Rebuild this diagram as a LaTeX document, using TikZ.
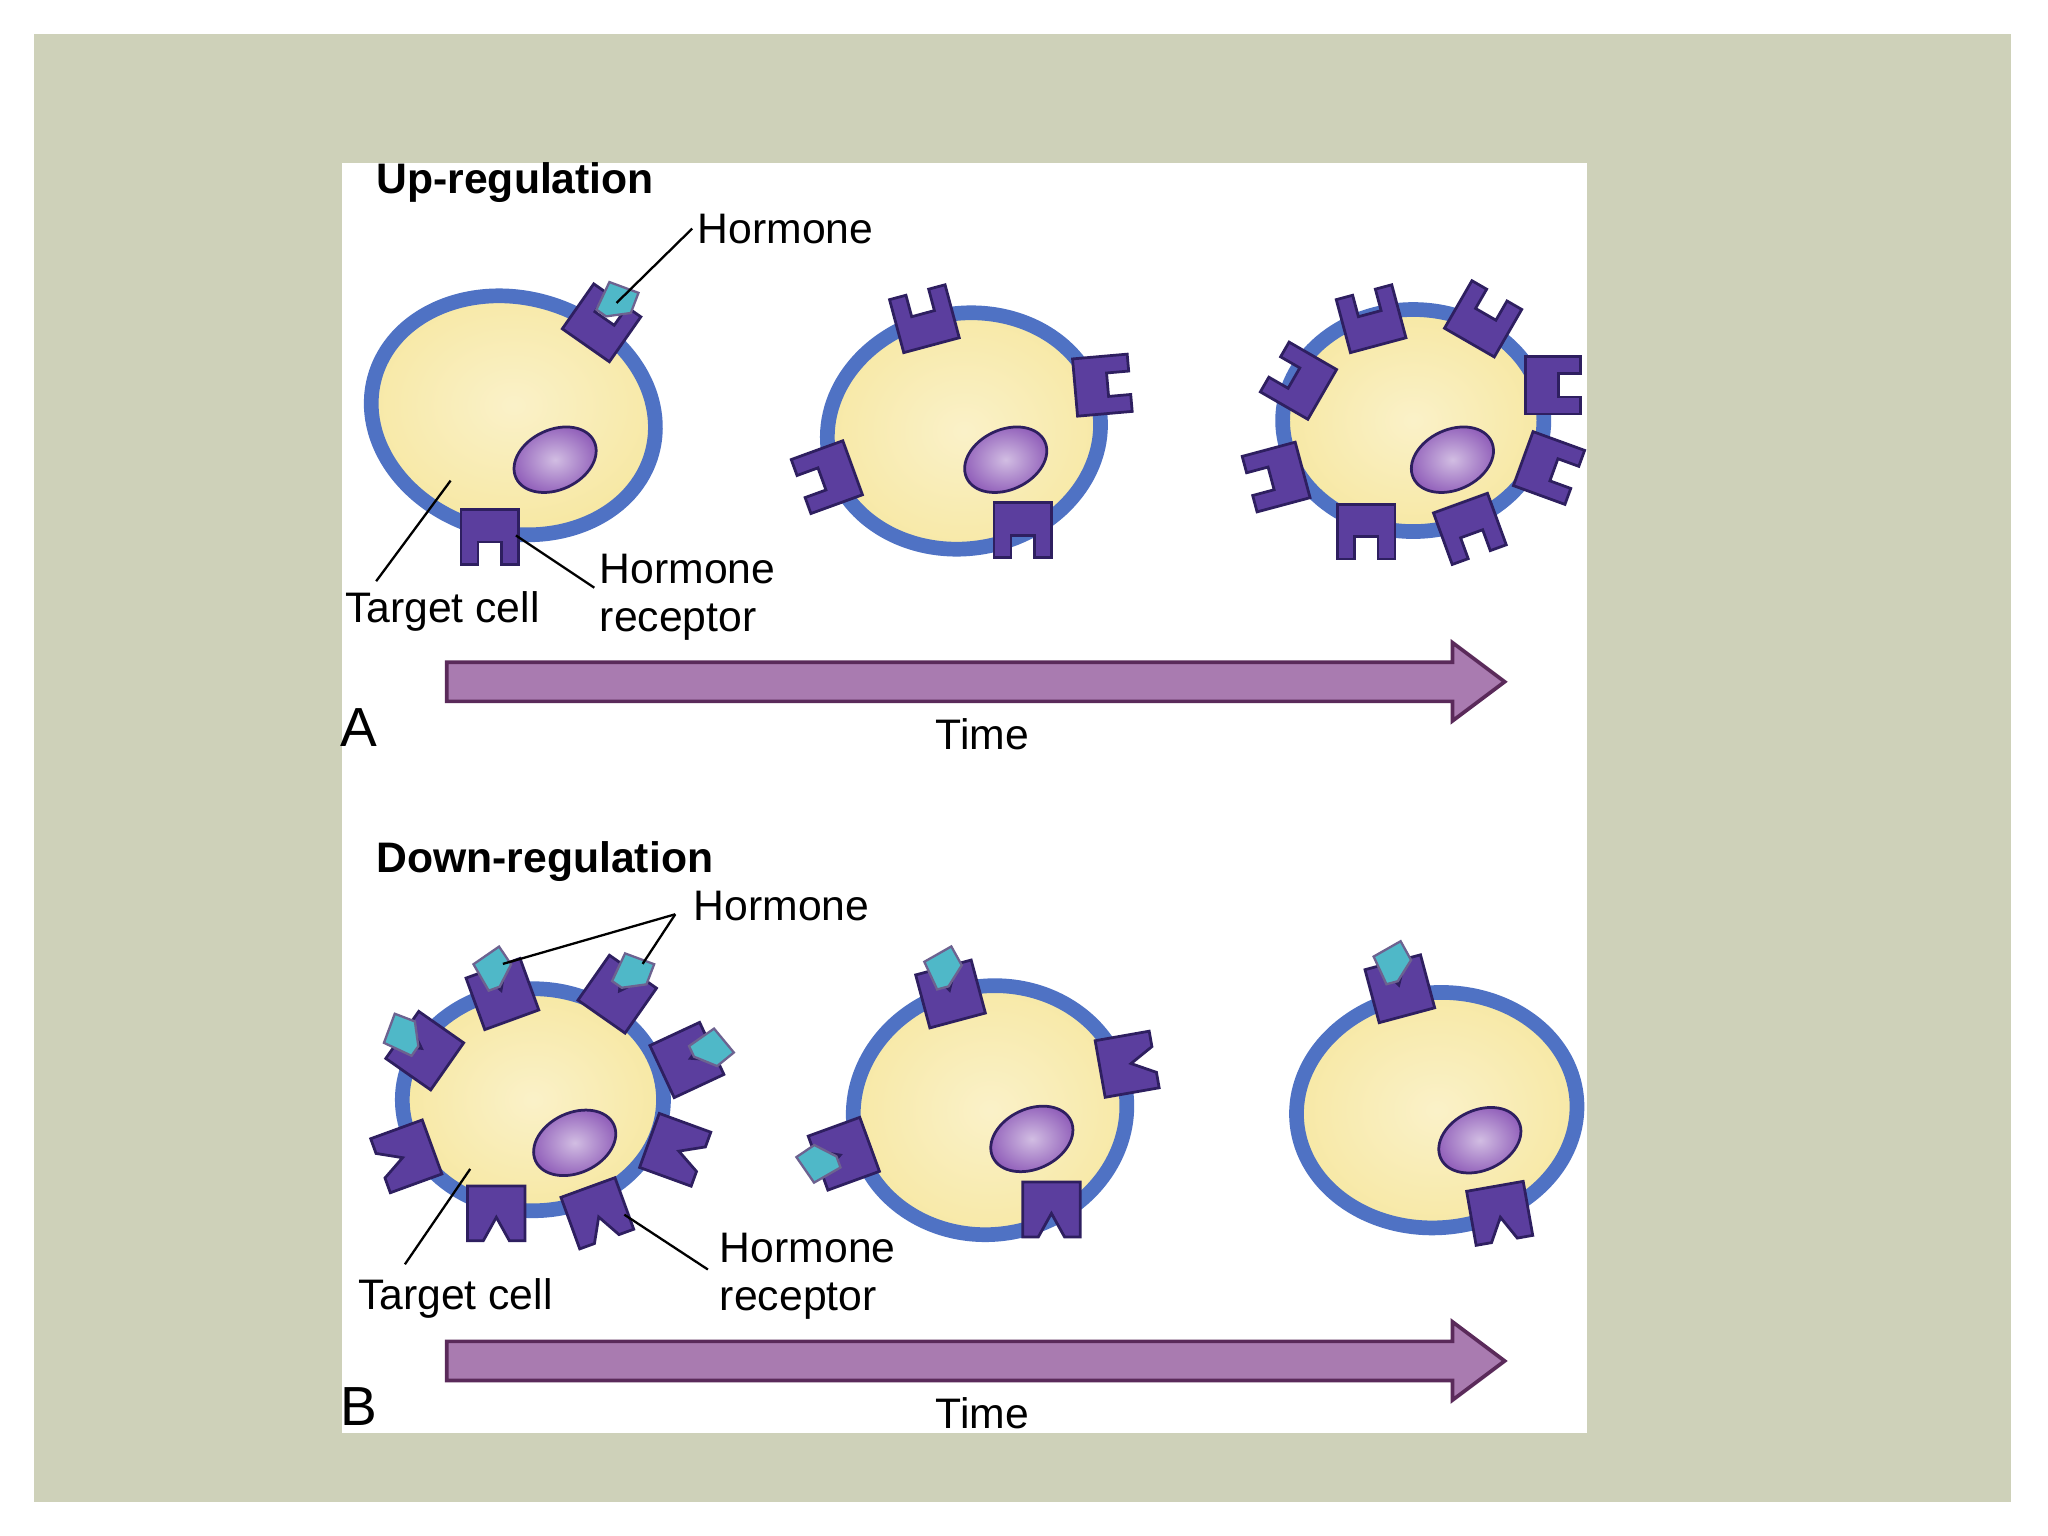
\documentclass[tikz,border=0pt]{standalone}
\usepackage{fontspec}
\setmainfont{Liberation Sans}
\usetikzlibrary{shapes.geometric}
\definecolor{bgc}{HTML}{CED1B9}
\definecolor{memb}{HTML}{4F72C4}
\definecolor{cyt}{HTML}{F7E8A4}
\definecolor{nuc}{HTML}{8E5BB8}
\definecolor{rec}{HTML}{5B3E9E}
\definecolor{recd}{HTML}{2E1F60}
\definecolor{horm}{HTML}{4FB8C8}
\definecolor{arr}{HTML}{A97BB0}
\definecolor{arrd}{HTML}{5A2A5A}
\tikzset{
 cell/.style={draw=memb,line width=3.2pt,inner color=cyt!60!white,outer color=cyt,ellipse},
 nucl/.style={draw=recd,line width=0.6pt,inner color=nuc!40!white,outer color=nuc},
 lbl/.style={font=\fontsize{9.3}{10.5}\selectfont,inner sep=1pt},
 ttl/.style={font=\fontsize{9.3}{10.5}\selectfont\bfseries,inner sep=1pt},
 lead/.style={draw=black,line width=0.5pt},
 pics/recU/.style={code={\path[yshift=-0.2cm,fill=rec,draw=recd,line width=0.6pt] (-0.22,0) -- (-0.22,0.42) -- (-0.09,0.42) -- (-0.09,0.25) -- (0.09,0.25) -- (0.09,0.42) -- (0.22,0.42) -- (0.22,0) -- cycle;}},
 pics/recV/.style={code={\path[yshift=-0.2cm,fill=rec,draw=recd,line width=0.6pt] (-0.22,0) -- (-0.22,0.42) -- (-0.1,0.42) -- (0,0.24) -- (0.1,0.42) -- (0.22,0.42) -- (0.22,0) -- cycle;}},
 pics/hor/.style={code={\path[yshift=-0.2cm,fill=horm,draw=recd!70,line width=0.5pt] (-0.09,0.27) -- (-0.13,0.5) -- (0.1,0.56) -- (0.14,0.4) -- (0,0.27) -- cycle;}},
}
\newcommand{\Ru}[3]{\pic[rotate=#3] at (#1/100,11.76-#2/100) {recU};}
\newcommand{\Rv}[3]{\pic[rotate=#3] at (#1/100,11.76-#2/100) {recV};}
\newcommand{\Rh}[3]{\pic[rotate=#3] at (#1/100,11.76-#2/100) {recV};\pic[rotate=#3] at (#1/100,11.76-#2/100) {hor};}
\newcommand{\Cell}[6]{\node[cell,minimum width=#3cm,minimum height=#4cm,rotate=#5] (#6) at (#1/100,11.76-#2/100) {};}
\newcommand{\Nuc}[2]{\path[nucl,rotate around={25:(#1/100,11.76-#2/100)}] (#1/100,11.76-#2/100) ellipse (0.33 and 0.23);}
\newcommand{\BigArrow}[1]{\path[fill=arr,draw=arrd,line width=0.8pt] (3.42,#1+0.15) -- (11.12,#1+0.15) -- (11.12,#1+0.3) -- (11.52,#1) -- (11.12,#1-0.3) -- (11.12,#1-0.15) -- (3.42,#1-0.15) -- cycle;}
\begin{document}
\begin{tikzpicture}
\useasboundingbox (0,0) rectangle (15.68,11.76);
\fill[white] (0,0) rectangle (15.68,11.76);
\fill[bgc] (0.26,0.26) rectangle (15.4,11.5);
\fill[white] (2.62,0.79) rectangle (12.15,10.51);
% ---------- A ----------
\Cell{393}{318}{2.2}{1.8}{-15}{a1}
\Nuc{425}{352}
\Cell{738}{330}{2.1}{1.8}{10}{a2}
\Nuc{770}{352}
\Cell{1082}{322}{2.0}{1.7}{0}{a3}
\Nuc{1112}{352}
\Ru{460}{248}{-35}\pic[rotate=-35] at (4.6,11.76-2.48) {hor};
\Ru{375}{410}{180}
\Ru{708}{245}{15}\Ru{843}{295}{-85}\Ru{634}{365}{110}\Ru{783}{405}{180}
\Ru{1050}{245}{15}\Ru{1135}{245}{-30}\Ru{995}{292}{60}\Ru{1188}{295}{-90}
\Ru{978}{365}{105}\Ru{1185}{358}{-110}\Ru{1046}{406}{180}\Ru{1125}{404}{-160}
\node[ttl,anchor=west] (ta) at (2.84,11.76-1.4) {Up-regulation};
\node[lbl,anchor=west] (ha) at (5.3,11.76-1.75) {Hormone};
\draw[lead] (ha.west) -- (4.72,11.76-2.32);
\node[lbl,anchor=west] (tca) at (2.6,11.76-4.68) {Target cell};
\draw[lead] (2.88,11.76-4.45) -- (3.45,11.76-3.68);
\node[lbl,anchor=west,align=left] (hra) at (4.55,11.76-4.57) {Hormone\\receptor};
\draw[lead] (4.55,11.76-4.5) -- (3.95,11.76-4.1);
\BigArrow{6.54}
\node[lbl,font=\fontsize{12}{13}\selectfont] (la) at (2.75,11.76-5.57) {A};
\node[lbl] (tia) at (7.52,11.76-5.62) {Time};
% ---------- B ----------
\Cell{408}{842}{2.0}{1.7}{0}{b1}
\Nuc{440}{875}
\Cell{758}{850}{2.1}{1.9}{10}{b2}
\Nuc{790}{872}
\Cell{1100}{850}{2.15}{1.8}{5}{b3}
\Nuc{1133}{873}
\Rh{385}{762}{20}\Rh{472}{762}{-35}\Rh{326}{805}{55}\Rh{525}{812}{-65}
\Rv{312}{885}{110}\Rv{516}{880}{-110}\Rv{380}{928}{180}\Rv{457}{928}{-160}
\Rh{728}{762}{15}\Rv{862}{815}{-80}\Rh{647}{883}{110}\Rv{805}{925}{180}
\Rh{1072}{758}{15}\Rv{1148}{928}{-170}
\node[ttl,anchor=west] (tb) at (2.84,11.76-6.6) {Down-regulation};
\node[lbl,anchor=west] (hb) at (5.27,11.76-6.94) {Hormone};
\coordinate (hbx) at (5.17,11.76-7.0);
\draw[lead] (hbx) -- (3.85,11.76-7.38);
\draw[lead] (hbx) -- (4.92,11.76-7.38);
\node[lbl,anchor=west] (tcb) at (2.7,11.76-9.94) {Target cell};
\draw[lead] (3.1,11.76-9.68) -- (3.6,11.76-8.95);
\node[lbl,anchor=west,align=left] (hrb) at (5.47,11.76-9.77) {Hormone\\receptor};
\draw[lead] (5.42,11.76-9.72) -- (4.78,11.76-9.3);
\BigArrow{1.34}
\node[lbl,font=\fontsize{12}{13}\selectfont] (lb) at (2.75,11.76-10.77) {B};
\node[lbl] (tib) at (7.52,11.76-10.82) {Time};
\end{tikzpicture}
\end{document}
